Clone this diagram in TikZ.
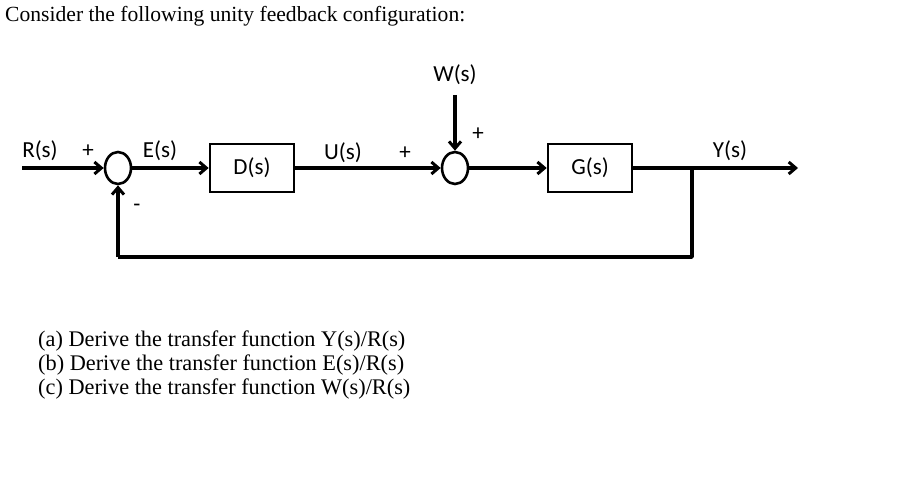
\documentclass[tikz,border=0pt]{standalone}
\usepackage{fontspec}
\setmainfont{Liberation Serif}
\newfontfamily\lab{Carlito}
\usetikzlibrary{arrows.meta,shapes.geometric}
\begin{document}
\begin{tikzpicture}[x=1pt,y=-1pt,
  blk/.style={draw,line width=2.6pt,minimum width=84pt,minimum height=48pt,font=\lab\fontsize{23}{26}\selectfont,inner sep=0pt},
  sum/.style={draw,ellipse,line width=2.6pt,minimum width=26pt,minimum height=32pt,inner sep=0pt},
  sig/.style={line width=3.6pt,-{Straight Barb[length=7pt,width=12pt,line width=3pt]}},
  wire/.style={line width=3.6pt},
  lbl/.style={font=\lab\fontsize{23}{26}\selectfont,inner sep=0pt},
  txt/.style={font=\fontsize{21.6}{24}\selectfont,inner sep=0pt,anchor=west}]
\useasboundingbox (0,0) rectangle (920,497);
\node[txt] (title) at (5,16) {Consider the following unity feedback configuration:};
\node[sum] (s1) at (118,168) {};
\node[blk] (D) at (252,168) {\raisebox{-6pt}{D(s)}};
\node[sum] (s2) at (455,168) {};
\node[blk] (G) at (590,168) {\raisebox{-6pt}{G(s)}};
\coordinate (rin) at (22,168);
\coordinate (br) at (692,168);
\coordinate (out) at (798,168);
\coordinate (bl) at (692,257);
\coordinate (bll) at (118,257);
\coordinate (win) at (455,95);
\draw[sig] (rin) -- (s1);
\draw[sig] (s1) -- (D);
\draw[sig] (D) -- (s2);
\draw[sig] (s2) -- (G);
\draw[wire] (G) -- (br);
\draw[sig] (br) -- (out);
\draw[wire,line join=round] (br) -- (bl) -- (bll);
\draw[sig] (bll) -- (s1);
\draw[sig] (win) -- (s2);
\node[lbl] (lR) at (40,151) {R(s)};
\node[lbl] (p1) at (88,151) {+};
\node[lbl] (lE) at (160,151) {E(s)};
\node[lbl] (lU) at (343,153) {U(s)};
\node[lbl] (p2) at (405,153) {+};
\node[lbl] (p3) at (478,134) {+};
\node[lbl] (lY) at (730,151) {Y(s)};
\node[lbl] (m1) at (137,208) {-};
\node[lbl] (lW) at (455,75) {W(s)};
\node[txt,font=\fontsize{22.3}{24}\selectfont] (qa) at (38,341) {(a) Derive the transfer function Y(s)/R(s)};
\node[txt,font=\fontsize{22.3}{24}\selectfont] (qb) at (38,365) {(b) Derive the transfer function E(s)/R(s)};
\node[txt,font=\fontsize{22.3}{24}\selectfont] (qc) at (38,389) {(c) Derive the transfer function W(s)/R(s)};
\end{tikzpicture}
\end{document}
